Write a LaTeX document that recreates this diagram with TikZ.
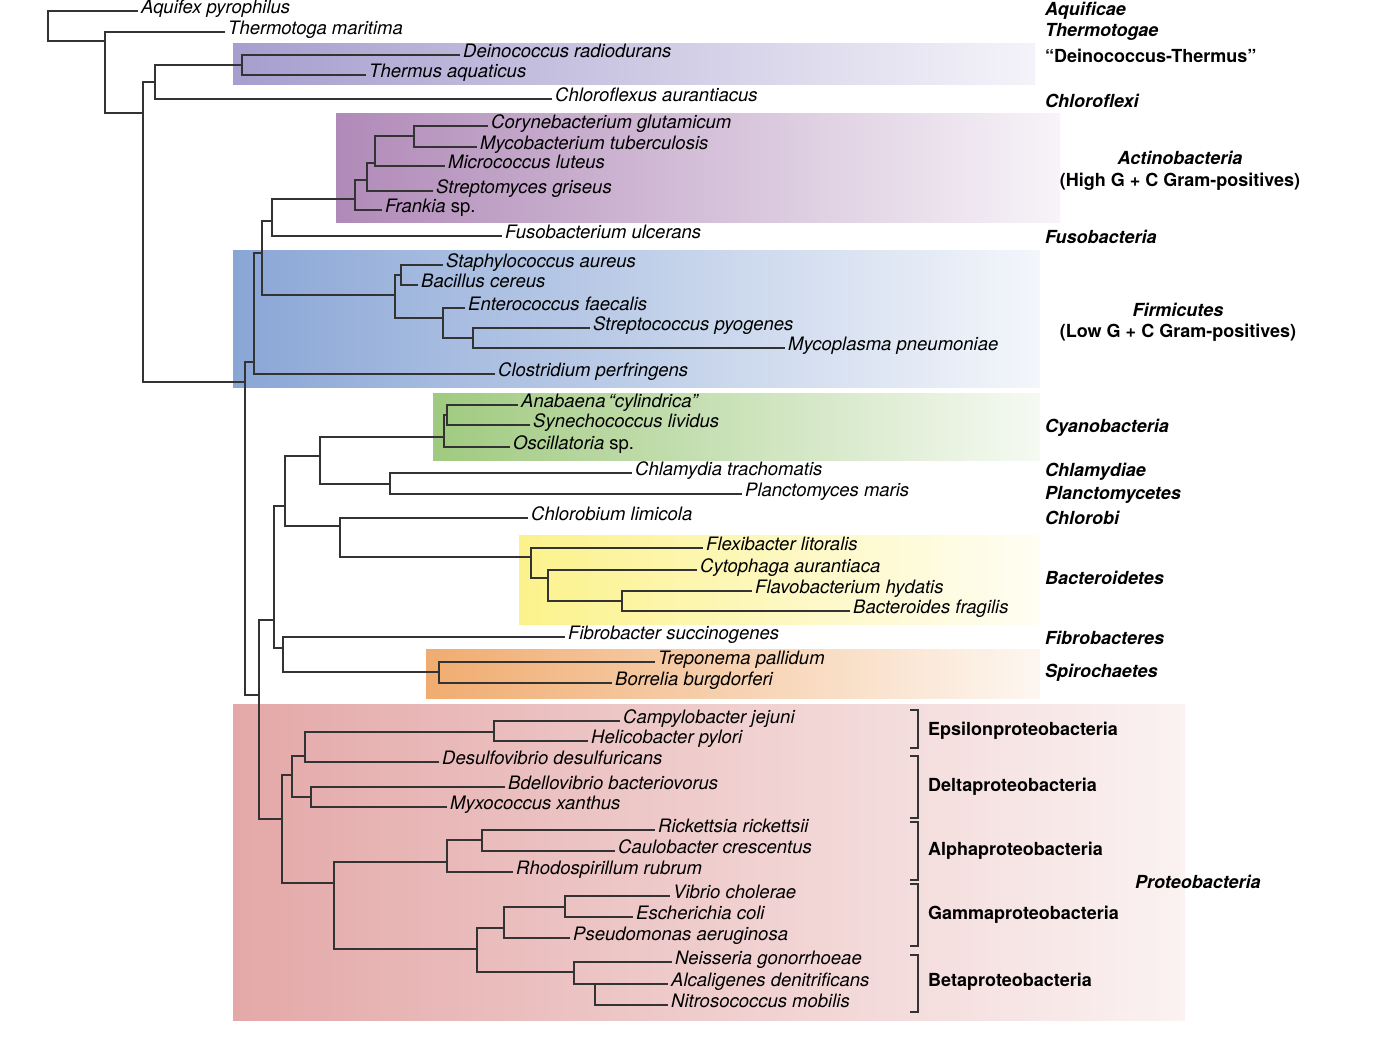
\documentclass[tikz,border=0pt]{standalone}
\usepackage{fontspec}
\setmainfont{TeX Gyre Heros}
\begin{document}
\begin{tikzpicture}[x=1pt,y=-1pt,
  leaf/.style={anchor=west,inner xsep=3pt,inner ysep=0pt,font=\fontsize{18.5}{20}\selectfont\itshape,text height=0.72em,text depth=0.2em},
  grp/.style={anchor=west,inner sep=0pt,font=\fontsize{18}{20}\selectfont\bfseries\itshape},
  grpu/.style={anchor=west,inner sep=0pt,font=\fontsize{18}{20}\selectfont\bfseries},
  br/.style={line width=1.1pt,color=black!80},
  ed/.style={line width=1.1pt,color=black!80}]
\useasboundingbox (0,0) rectangle (1378,1043);
\definecolor{cDT}{RGB}{166,158,206}
\definecolor{cAc}{RGB}{176,138,184}
\definecolor{cFi}{RGB}{138,166,214}
\definecolor{cCy}{RGB}{160,202,128}
\definecolor{cBa}{RGB}{252,242,140}
\definecolor{cSp}{RGB}{240,172,112}
\definecolor{cPr}{RGB}{228,168,168}
\shade[left color=cDT,right color=cDT!12!white] (233,44) rectangle (1035,85);
\shade[left color=cAc,right color=cAc!10!white] (336,114) rectangle (1060,222);
\shade[left color=cFi,right color=cFi!10!white] (233,250) rectangle (1040,387);
\shade[left color=cCy,right color=cCy!10!white] (433,393) rectangle (1040,460);
\shade[left color=cBa,right color=cBa!10!white] (519,535) rectangle (1040,624);
\shade[left color=cSp,right color=cSp!10!white] (426,649) rectangle (1040,698);
\shade[left color=cPr,right color=cPr!15!white] (233,704) rectangle (1185,1020);
\newcommand\lf[4]{\node[leaf] (#1) at (#3,#2) {#4};}
\newcommand\nd[3]{\coordinate (#1) at (#2,#3);}
\newcommand\ee[2]{\draw[ed] (#1) |- (#2);}
% leaves
\lf{aq}{11}{138}{Aquifex pyrophilus}
\lf{tm}{32}{225}{Thermotoga maritima}
\lf{dr}{55}{460}{Deinococcus radiodurans}
\lf{ta}{75}{366}{Thermus aquaticus}
\lf{ca}{99}{552}{Chloroflexus aurantiacus}
\lf{cg}{126}{488}{Corynebacterium glutamicum}
\lf{mt}{147}{477}{Mycobacterium tuberculosis}
\lf{ml}{166}{445}{Micrococcus luteus}
\lf{sg}{191}{433}{Streptomyces griseus}
\lf{fr}{210}{382}{Frankia \upshape sp.}
\lf{fu}{236}{502}{Fusobacterium ulcerans}
\lf{sa}{265}{443}{Staphylococcus aureus}
\lf{bc}{285}{418}{Bacillus cereus}
\lf{ef}{308}{465}{Enterococcus faecalis}
\lf{sp}{328}{590}{Streptococcus pyogenes}
\lf{mp}{348}{785}{Mycoplasma pneumoniae}
\lf{cp}{374}{495}{Clostridium perfringens}
\lf{an}{405}{518}{Anabaena\,“cylindrica”}
\lf{sl}{425}{530}{Synechococcus lividus}
\lf{os}{447}{510}{Oscillatoria \upshape sp.}
\lf{ct}{473}{632}{Chlamydia trachomatis}
\lf{pm}{494}{742}{Planctomyces maris}
\lf{cl}{518}{528}{Chlorobium limicola}
\lf{fl}{548}{703}{Flexibacter litoralis}
\lf{cy}{570}{697}{Cytophaga aurantiaca}
\lf{fh}{591}{752}{Flavobacterium hydatis}
\lf{bf}{611}{850}{Bacteroides fragilis}
\lf{fs}{637}{565}{Fibrobacter succinogenes}
\lf{tp}{662}{655}{Treponema pallidum}
\lf{bb}{683}{612}{Borrelia burgdorferi}
\lf{cj}{721}{620}{Campylobacter jejuni}
\lf{hp}{741}{588}{Helicobacter pylori}
\lf{dd}{762}{439}{Desulfovibrio desulfuricans}
\lf{bv}{787}{505}{Bdellovibrio bacteriovorus}
\lf{mx}{807}{447}{Myxococcus xanthus}
\lf{rr}{830}{655}{Rickettsia rickettsii}
\lf{cc}{851}{615}{Caulobacter crescentus}
\lf{rs}{872}{513}{Rhodospirillum rubrum}
\lf{vc}{896}{670}{Vibrio cholerae}
\lf{ec}{917}{633}{Escherichia coli}
\lf{pa}{938}{570}{Pseudomonas aeruginosa}
\lf{ng}{962}{672}{Neisseria gonorrhoeae}
\lf{ad}{984}{668}{Alcaligenes denitrificans}
\lf{nm}{1005}{668}{Nitrosococcus mobilis}
% internal nodes
\nd{n0}{48}{26}\nd{n1}{105}{41}\nd{n2}{143}{113}\nd{n3}{155}{82}\nd{nDT}{242}{65}
\nd{n4}{245}{382}\nd{n5}{254}{362}\nd{n6}{262}{253}\nd{n7}{272}{221}
\nd{nA}{355}{199}\nd{nAa}{367}{180}\nd{nAb}{375}{163}\nd{nAc}{414}{136}
\nd{nF}{395}{295}\nd{nFa}{401}{275}\nd{nFb}{443}{318}\nd{nFc}{473}{338}
\nd{nB}{259}{695}\nd{nG}{274}{620}\nd{nGa}{285}{506}\nd{nGb}{283}{648}
\nd{nGc}{320}{456}\nd{nC}{444}{437}\nd{nCa}{447}{415}\nd{nCh}{390}{484}
\nd{nGd}{340}{526}\nd{nBa}{531}{557}\nd{nBb}{548}{578}\nd{nBc}{622}{601}
\nd{nS}{439}{672}
\nd{nP}{282}{819}\nd{nPa}{292}{775}\nd{nPb}{305}{756}\nd{nE}{494}{732}\nd{nD}{311}{797}
\nd{nPc}{334}{883}\nd{nAl}{447}{862}\nd{nAm}{482}{840}
\nd{nGB}{477}{949}\nd{nGm}{504}{928}\nd{nGn}{565}{907}\nd{nBe}{574}{972}\nd{nBf}{595}{984}
% edges
\ee{n0}{aq.west}\ee{n0}{n1}\ee{n1}{tm.west}\ee{n1}{n2}
\ee{n2}{n3}\ee{n2}{n4}\ee{n3}{nDT}\ee{n3}{ca.west}\ee{nDT}{dr.west}\ee{nDT}{ta.west}
\ee{n4}{n5}\ee{n4}{nB}\ee{n5}{n6}\ee{n5}{cp.west}\ee{n6}{n7}\ee{n6}{nF}
\ee{n7}{nA}\ee{n7}{fu.west}\ee{nA}{nAa}\ee{nA}{fr.west}\ee{nAa}{nAb}\ee{nAa}{sg.west}
\ee{nAb}{nAc}\ee{nAb}{ml.west}\ee{nAc}{cg.west}\ee{nAc}{mt.west}
\ee{nF}{nFa}\ee{nF}{nFb}\ee{nFa}{sa.west}\ee{nFa}{bc.west}\ee{nFb}{ef.west}\ee{nFb}{nFc}
\ee{nFc}{sp.west}\ee{nFc}{mp.west}
\ee{nB}{nG}\ee{nB}{nP}\ee{nG}{nGa}\ee{nG}{nGb}\ee{nGa}{nGc}\ee{nGa}{nGd}
\ee{nGc}{nC}\ee{nGc}{nCh}\ee{nC}{nCa}\ee{nC}{os.west}\ee{nCa}{an.west}\ee{nCa}{sl.west}
\ee{nCh}{ct.west}\ee{nCh}{pm.west}\ee{nGd}{cl.west}\ee{nGd}{nBa}
\ee{nBa}{fl.west}\ee{nBa}{nBb}\ee{nBb}{cy.west}\ee{nBb}{nBc}\ee{nBc}{fh.west}\ee{nBc}{bf.west}
\ee{nGb}{fs.west}\ee{nGb}{nS}\ee{nS}{tp.west}\ee{nS}{bb.west}
\ee{nP}{nPa}\ee{nP}{nPc}\ee{nPa}{nPb}\ee{nPa}{nD}\ee{nPb}{nE}\ee{nPb}{dd.west}
\ee{nE}{cj.west}\ee{nE}{hp.west}\ee{nD}{bv.west}\ee{nD}{mx.west}
\ee{nPc}{nAl}\ee{nPc}{nGB}\ee{nAl}{nAm}\ee{nAl}{rs.west}\ee{nAm}{rr.west}\ee{nAm}{cc.west}
\ee{nGB}{nGm}\ee{nGB}{nBe}\ee{nGm}{nGn}\ee{nGm}{pa.west}\ee{nGn}{vc.west}\ee{nGn}{ec.west}
\ee{nBe}{ng.west}\ee{nBe}{nBf}\ee{nBf}{ad.west}\ee{nBf}{nm.west}
% group labels
\node[grp] (gAq) at (1045,11) {Aquificae};
\node[grp] (gTh) at (1045,32) {Thermotogae};
\node[grpu] (gDT) at (1045,56) {“Deinococcus-Thermus”};
\node[grp] (gCf) at (1045,101) {Chloroflexi};
\node[grp,anchor=center] (gAc) at (1180,158) {Actinobacteria};
\node[grpu,anchor=center] (gAc2) at (1180,182) {(High G + C Gram-positives)};
\node[grp] (gFu) at (1045,237) {Fusobacteria};
\node[grp,anchor=center] (gFi) at (1178,310) {Firmicutes};
\node[grpu,anchor=center] (gFi2) at (1178,333) {(Low G + C Gram-positives)};
\node[grp] (gCy) at (1045,428) {Cyanobacteria};
\node[grp] (gCh) at (1045,472) {Chlamydiae};
\node[grp] (gPl) at (1045,495) {Planctomycetes};
\node[grp] (gCb) at (1045,518) {Chlorobi};
\node[grp] (gBa) at (1045,578) {Bacteroidetes};
\node[grp] (gFb) at (1045,638) {Fibrobacteres};
\node[grp] (gSp) at (1045,673) {Spirochaetes};
\node[grp] (gPr) at (1135,882) {Proteobacteria};
\node[grpu] (gEp) at (928,731) {Epsilonproteobacteria};
\node[grpu] (gDe) at (928,787) {Deltaproteobacteria};
\node[grpu] (gAl) at (928,851) {Alphaproteobacteria};
\node[grpu] (gGa) at (928,915) {Gammaproteobacteria};
\node[grpu] (gBe) at (928,982) {Betaproteobacteria};
% brackets
\draw[br] (910,710) -- (918,710) -- (918,748) -- (910,748);
\draw[br] (910,756) -- (918,756) -- (918,818) -- (910,818);
\draw[br] (910,822) -- (918,822) -- (918,880) -- (910,880);
\draw[br] (910,884) -- (918,884) -- (918,946) -- (910,946);
\draw[br] (910,955) -- (918,955) -- (918,1012) -- (910,1012);
\end{tikzpicture}
\end{document}
